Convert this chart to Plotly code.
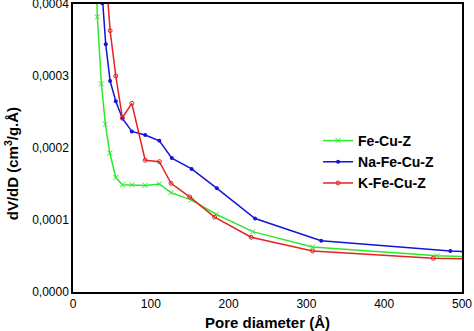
import plotly.graph_objects as go

# Fe-Cu-Z
fe_x = [28, 31.3, 36.5, 41.6, 47.3, 55, 63.5, 75.6, 92.8, 111, 126, 152, 184, 231, 308, 468, 560]
fe_y = [0.00052, 0.000382, 0.000289, 0.000233, 0.000193, 0.000159, 0.000149, 0.000149, 0.000148,
        0.000150, 0.000138, 0.000128, 0.000108, 0.0000838, 0.0000625, 0.0000505, 0.000047]
# Na-Fe-Cu-Z
na_x = [33, 37.8, 42.1, 47.7, 55, 63.5, 75.6, 92.8, 111, 127, 152.5, 185, 234, 319, 485, 560]
na_y = [0.00048, 0.000401, 0.000344, 0.000293, 0.000265, 0.000241, 0.000223, 0.000218, 0.000210,
        0.000186, 0.000171, 0.000144, 0.000102, 0.0000713, 0.0000569, 0.000054]
# K-Fe-Cu-Z
k_x = [41, 47.7, 55, 63.5, 75.6, 92.8, 111, 126, 150, 182, 229, 308, 463, 560]
k_y = [0.00046, 0.000363, 0.000300, 0.000242, 0.000262, 0.000183, 0.000181, 0.000151, 0.000132,
       0.000104, 0.000076, 0.0000569, 0.0000468, 0.000045]

x_ticks = [0, 100, 200, 300, 400, 500]
y_ticks = [0, 0.0001, 0.0002, 0.0003, 0.0004]

fig = go.Figure()
fig.add_trace(go.Scatter(x=fe_x, y=fe_y, name="<b>Fe-Cu-Z</b>", mode="lines+markers",
                         line=dict(color="#2ee82e", width=1.5),
                         marker=dict(symbol="x-thin", size=5, color="#2ee82e",
                                     line=dict(color="#2ee82e", width=1))))
fig.add_trace(go.Scatter(x=na_x, y=na_y, name="<b>Na-Fe-Cu-Z</b>", mode="lines+markers",
                         line=dict(color="#1414d8", width=1.5),
                         marker=dict(symbol="circle", size=4, color="#1414d8")))
fig.add_trace(go.Scatter(x=k_x, y=k_y, name="<b>K-Fe-Cu-Z</b>", mode="lines+markers",
                         line=dict(color="#e42222", width=1.5),
                         marker=dict(symbol="circle-open", size=4, color="#e42222",
                                     line=dict(color="#e42222", width=1))))

fig.update_layout(
    width=474, height=331,
    margin=dict(l=73, r=12, t=4, b=39),
    paper_bgcolor="white", plot_bgcolor="white",
    separators=",.",
    font=dict(family="Liberation Sans, Arial", size=12, color="black"),
    showlegend=True,
    legend=dict(x=0.63, y=0.58, xanchor="left", yanchor="top",
                bgcolor="rgba(0,0,0,0)", borderwidth=0,
                font=dict(size=14, family="Liberation Sans, Arial"),
                itemwidth=30, tracegroupgap=0),
    annotations=[dict(text="<b>dV/dD (cm<sup>3</sup>/g.Å)</b>", textangle=-90,
                      xref="paper", yref="paper", x=-0.159, y=0.444,
                      xanchor="center", yanchor="middle", showarrow=False,
                      font=dict(size=15, family="Liberation Sans, Arial", color="black"))],
)
fig.update_xaxes(range=[0, 500], tickvals=x_ticks, ticks="", showgrid=False, zeroline=False,
                 showline=True, linecolor="black", linewidth=1.5, mirror=True,
                 ticklabeloverflow="allow", automargin=False,
                 title=dict(text="<b>Pore diameter (Å)</b>", font=dict(size=15), standoff=11),
                 tickfont=dict(size=12))
fig.update_yaxes(range=[0, 0.0004], tickvals=y_ticks, tickformat=".4f", ticks="",
                 showgrid=False, zeroline=False, automargin=False,
                 showline=True, linecolor="black", linewidth=1.5, mirror=True,
                 ticklabeloverflow="allow",
                 tickfont=dict(size=12))

fig.write_html("out.html")
